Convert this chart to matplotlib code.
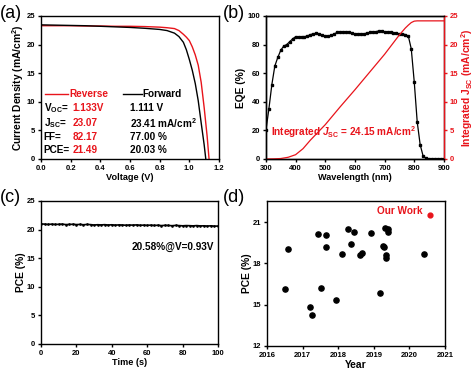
import matplotlib
matplotlib.use('Agg')
import matplotlib.pyplot as plt

plt.rcParams['font.family'] = ['Liberation Sans', 'DejaVu Sans']
plt.rcParams['font.weight'] = 'bold'
plt.rcParams['axes.labelweight'] = 'bold'
plt.rcParams['mathtext.fontset'] = 'custom'
plt.rcParams['mathtext.rm'] = 'Liberation Sans:bold'
plt.rcParams['mathtext.it'] = 'Liberation Sans:bold:italic'
plt.rcParams['mathtext.bf'] = 'Liberation Sans:bold'
plt.rcParams['axes.linewidth'] = 1.0
plt.rcParams['xtick.major.width'] = 1.0
plt.rcParams['ytick.major.width'] = 1.0
plt.rcParams['xtick.major.size'] = 2.5
plt.rcParams['ytick.major.size'] = 2.5

RED = '#e8141b'

# (a) J-V curves
v_rev = [0, 0.1, 0.2, 0.3, 0.4, 0.5, 0.6, 0.7, 0.8, 0.85, 0.9, 0.93, 0.96,
         0.98, 1.0, 1.02, 1.04, 1.06, 1.08, 1.10, 1.12, 1.133]
j_rev = [23.3, 23.3, 23.3, 23.25, 23.25, 23.2, 23.2, 23.15, 23.05, 22.95,
         22.8, 22.45, 21.8, 21.3, 20.7, 19.6, 18.2, 16.4, 13.4, 9.0, 4.0, 0]
v_fwd = [0, 0.1, 0.2, 0.3, 0.4, 0.5, 0.6, 0.7, 0.8, 0.85, 0.9, 0.93, 0.96,
         0.98, 1.0, 1.02, 1.04, 1.06, 1.08, 1.10, 1.111]
j_fwd = [23.45, 23.4, 23.35, 23.3, 23.2, 23.1, 23.0, 22.85, 22.65, 22.45,
         22.0, 21.4, 20.4, 19.1, 17.4, 15.5, 13.2, 10.2, 6.3, 2.5, 0]
param_names = ['V$_{\\mathrm{OC}}$=', 'J$_{\\mathrm{SC}}$=', 'FF=', 'PCE=']
param_rev = ['1.133V', '23.07', '82.17', '21.49']
param_fwd = ['1.111 V', '23.41 mA/cm$^{\\mathrm{2}}$', '77.00 %', '20.03 %']

# (b) EQE and integrated Jsc
wl = list(range(300, 910, 10))
eqe = [20, 35, 52, 65, 71, 76, 79, 80, 82, 84, 85.5, 85.5, 85.5, 85.5, 86,
       87, 87.5, 88, 87.5, 86.5, 86, 86, 86.5, 87.5, 88.5, 89, 89, 89, 88.5,
       88, 87.5, 87.5, 87.5, 87.5, 88, 88.5, 89, 89, 89.5, 89.5, 89, 89,
       88.5, 88, 88, 87.5, 87.5, 87, 86, 77, 54, 26, 10, 2, 0.5, 0, 0, 0,
       0, 0, 0]
wl_int = [300, 325, 350, 375, 400, 425, 450, 500, 550, 600, 650, 700, 750,
          770, 780, 790, 800, 810, 900]
jsc_int = [0, 0.02, 0.08, 0.3, 0.75, 1.8, 3.3, 6.0, 9.1, 12.1, 15.2, 18.3,
           21.7, 22.9, 23.4, 23.85, 24.1, 24.15, 24.15]

# (c) stabilized PCE
t_pce = list(range(0, 102, 2))
pce_t = [21.0, 20.95, 20.9, 20.95, 20.9, 20.92, 20.95, 20.88, 20.9, 20.93,
         20.88, 20.9, 20.85, 20.9, 20.87, 20.8, 20.85, 20.82, 20.86, 20.8,
         20.84, 20.78, 20.82, 20.8, 20.76, 20.8, 20.78, 20.82, 20.75, 20.78,
         20.74, 20.78, 20.72, 20.76, 20.7, 20.74, 20.72, 20.68, 20.73, 20.7,
         20.66, 20.7, 20.68, 20.65, 20.7, 20.64, 20.66, 20.62, 20.66, 20.6,
         20.62]

# (d) literature comparison
years = [2016.51, 2016.59, 2017.20, 2017.27, 2017.43, 2017.51, 2017.67,
         2017.67, 2017.93, 2018.10, 2018.27, 2018.35, 2018.43, 2018.60,
         2018.68, 2018.93, 2019.18, 2019.25, 2019.28, 2019.32, 2019.33,
         2019.33, 2019.41, 2019.41, 2020.41]
pce_lit = [16.18, 19.06, 14.82, 14.24, 20.18, 16.23, 20.05, 19.23, 15.33,
           18.67, 20.49, 19.40, 20.30, 18.59, 18.74, 20.20, 15.82, 19.25,
           19.22, 20.59, 18.62, 18.42, 20.49, 20.32, 18.72]
our_year = [2020.57]
our_pce = [21.49]

fig = plt.figure(figsize=(4.74, 3.72), dpi=100)
fs_tick = 5.5
fs_xlab = 6.6
fs_ylab = 7.4
fs_txt = 7.2


def style(ax):
    ax.tick_params(labelsize=fs_tick, direction='out', pad=1.5,
                   top=False, right=False)
    for lab in ax.get_xticklabels() + ax.get_yticklabels():
        lab.set_fontweight('bold')


# ---- (a)
ax = fig.add_axes([0.0865, 0.5726, 0.3755, 0.3844])
ax.plot(v_rev, j_rev, color=RED, lw=1.0)
ax.plot(v_fwd, j_fwd, color='black', lw=1.0)
ax.set_xlim(0, 1.2)
ax.set_ylim(0, 25)
ax.set_xticks([0, 0.2, 0.4, 0.6, 0.8, 1.0, 1.2])
ax.set_yticks([0, 5, 10, 15, 20, 25])
ax.set_xlabel('Voltage (V)', fontsize=fs_xlab, labelpad=1)
ax.set_ylabel('Current Density (mA/cm$^{\\mathrm{2}}$)', fontsize=fs_ylab,
              labelpad=1)
style(ax)
ax.plot([0.027, 0.182], [11.45, 11.45], color=RED, lw=1.0)
ax.text(0.19, 11.45, 'Reverse', color=RED, fontsize=fs_txt, va='center')
ax.plot([0.555, 0.68], [11.45, 11.45], color='black', lw=1.0)
ax.text(0.686, 11.45, 'Forward', color='black', fontsize=fs_txt, va='center')
rows_y = [8.84, 6.22, 3.9, 1.57]
for i in range(4):
    ax.text(0.018, rows_y[i], param_names[i], fontsize=fs_txt, va='center')
    ax.text(0.214, rows_y[i], param_rev[i], fontsize=fs_txt, va='center',
            color=RED)
    ax.text(0.6, rows_y[i], param_fwd[i], fontsize=fs_txt, va='center')
fig.text(0.0, 0.965, '(a)', fontsize=13, fontweight='normal', va='center')

# ---- (b)
axb = fig.add_axes([0.561, 0.5726, 0.3755, 0.3844])
axb.plot(wl, eqe, color='black', lw=0.9, marker='s', ms=1.8)
axb.set_xlim(300, 900)
axb.set_ylim(0, 100)
axb.set_xticks(range(300, 1000, 100))
axb.set_yticks(range(0, 120, 20))
axb.set_xlabel('Wavelength (nm)', fontsize=fs_xlab, labelpad=1)
axb.set_ylabel('EQE (%)', fontsize=fs_ylab, labelpad=1)
style(axb)
axb.text(318, 18.6, 'Integrated $\\mathit{J}_{\\mathrm{SC}}$ = 24.15 mA/cm$^{\\mathrm{2}}$',
         color=RED, fontsize=fs_txt, va='center')
axr = axb.twinx()
axr.plot(wl_int, jsc_int, color=RED, lw=0.9)
axr.set_ylim(0, 25)
axr.set_yticks(range(0, 30, 5))
axr.set_ylabel('Integrated J$_{\\mathrm{SC}}$ (mA/cm$^{\\mathrm{2}}$)',
               color=RED, fontsize=fs_ylab, labelpad=1)
axr.tick_params(axis='y', labelsize=fs_tick, colors=RED, direction='out',
                pad=1.5)
for lab in axr.get_yticklabels():
    lab.set_fontweight('bold')
axr.spines['right'].set_color(RED)
fig.text(0.47, 0.965, '(b)', fontsize=13, fontweight='normal', va='center')

# ---- (c)
axc = fig.add_axes([0.0865, 0.0753, 0.3734, 0.3844])
axc.plot(t_pce, pce_t, color='black', lw=1.2, marker='.', ms=1.8)
axc.set_xlim(0, 100)
axc.set_ylim(0, 25)
axc.set_xticks(range(0, 120, 20))
axc.set_yticks(range(0, 30, 5))
axc.set_xlabel('Time (s)', fontsize=fs_xlab, labelpad=1)
axc.set_ylabel('PCE (%)', fontsize=fs_ylab, labelpad=1)
style(axc)
axc.text(98, 16.9, '20.58%@V=0.93V', fontsize=fs_txt, ha='right',
         va='center')
fig.text(0.0, 0.47, '(c)', fontsize=13, fontweight='normal', va='center')

# ---- (d)
axd = fig.add_axes([0.5633, 0.0699, 0.3755, 0.39])
axd.scatter(years, pce_lit, s=14, color='black', zorder=3)
axd.scatter(our_year, our_pce, s=12, color=RED, zorder=3)
axd.text(2019.08, 21.83, 'Our Work', color=RED, fontsize=fs_txt,
         va='center')
axd.set_xlim(2016, 2021)
axd.set_ylim(12, 22.55)
axd.set_xticks(range(2016, 2022))
axd.set_yticks([12, 15, 18, 21])
axd.set_xlabel('Year', fontsize=fs_xlab + 0.8, labelpad=1)
axd.set_ylabel('PCE (%)', fontsize=fs_ylab, labelpad=1)
style(axd)
fig.text(0.47, 0.47, '(d)', fontsize=13, fontweight='normal', va='center')

fig.savefig('out.png', dpi=100)
